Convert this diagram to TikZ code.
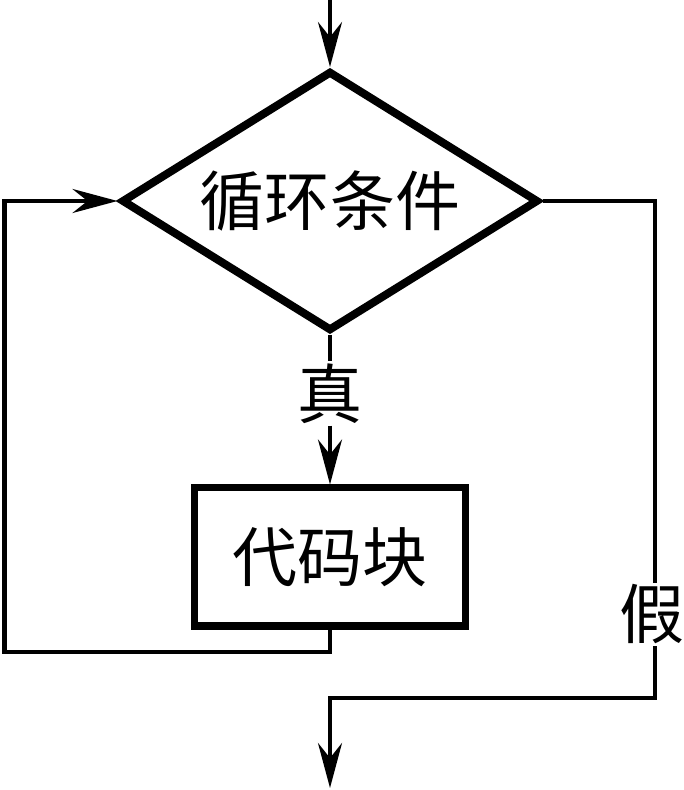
\documentclass[tikz,border=0pt]{standalone}
\usepackage{fontspec}
\usepackage{tikz}
\usetikzlibrary{shapes.geometric,arrows.meta}
\newfontfamily\cjk{Noto Sans CJK SC}
\tikzset{
	flow/.style={black,line width=0.08cm},
	arr/.style={flow,-{Stealth[length=0.9cm,width=0.48cm,inset=0.3cm]}},
	word/.style={font=\cjk\fontsize{37}{40}\selectfont,inner sep=1pt},
	cond/.style={diamond,draw,line width=0.16cm,inner sep=0pt,minimum width=8.34cm,minimum height=5.2cm},
	block/.style={rectangle,draw,line width=0.14cm,minimum width=5.42cm,minimum height=2.76cm}
}

\begin{document}
\begin{tikzpicture}[x=0.2cm,y=0.2cm]
	\useasboundingbox (0,0) rectangle (68.3,79);
\node[cond,label={[word]center:循环条件}] (C) at (33,58.9) {};
\node[block,word] (B) at (33,23.3) {代码块};
\node[word] (T) at (33,39.65) {真};
\node[word] (F) at (65.2,17.55) {假};
\coordinate (In) at (33,79);
\coordinate (Out) at (33,0.2);
\coordinate (LB) at (0.45,13.8);
\coordinate (RT) at (65.5,58.9);
\coordinate (RB) at (65.5,9.2);
\draw[arr] (In) -- (C.north);
\draw[flow] (C.south) -- (T.north);
\draw[arr] (T.south) -- (B.north);
\draw[arr] (B.south) |- (LB) |- (C.west);
\draw[flow] (C.east) -- (RT) -- (RT |- F.north);
\draw[arr] (RT |- F.south) -- (RB) -| (Out);

\end{tikzpicture}
\end{document}
